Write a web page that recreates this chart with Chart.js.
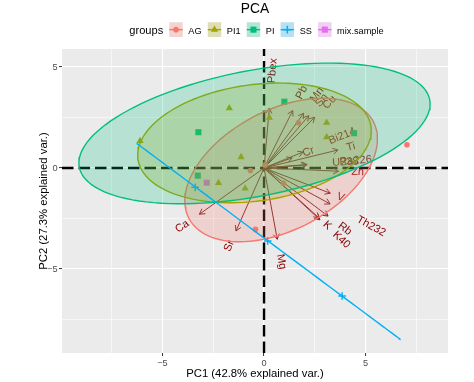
<!DOCTYPE html>
<html><head><meta charset="utf-8">
<script src="https://cdn.jsdelivr.net/npm/chart.js@4"></script>
<style>html,body{margin:0;padding:0;background:#fff}#wrap{width:474px;height:382px}</style>
</head><body><div id="wrap"><canvas id="c" width="474" height="382"></canvas></div>
<script>
// ---------- data ----------
const groupNames = ['AG', 'PI1', 'PI', 'SS', 'mix.sample'];

const agX  = [7.03, -0.42, -0.67, 1.69, 0.95, 0.05];
const agY  = [1.15, -3.04, -0.13, 2.24, -0.76, 0.15];
const pi1X = [-6.10, -1.71, -1.13, -2.24, -0.93, 0.26, 3.08, 3.08];
const pi1Y = [1.34, 2.96, 0.54, -0.74, -1.01, 2.49, 2.24, 1.52];
const piX  = [-3.23, -3.26, 1.00, 4.43];
const piY  = [1.77, -0.38, 3.28, 1.72];
const ssX  = [-3.39, 0.18, 3.84];
const ssY  = [-0.96, -3.61, -6.34];
const mixX = [-2.82];
const mixY = [-0.73];

// concentration ellipses (centre, semi-axes, rotation in degrees)
const ellipseGroups = ['AG', 'PI1', 'PI', 'SS'];
const ellipseCX = [0.84, -0.47, -0.47, 0.215];
const ellipseCY = [-0.10, 1.24, 1.71, -3.63];
const ellipseA  = [5.13, 5.79, 8.78, 8.09];
const ellipseB  = [2.96, 2.88, 3.11, 0];
const ellipseDeg = [28, 8, 11, -36.8];

// variable loadings (arrows)
const varNames = ['Pbex','Pb','Mn','Sn','Cu','Cr','Bi214','Ti','U238','Ra226','Zn','V','Th232','Rb','K','K40','Mg','Sr','Ca'];
const loadX = [0.26, 1.41, 1.95, 2.20, 2.49, 1.38, 1.92, 3.64, 2.07, 2.12, 3.66, 3.26, 3.25, 3.15, 2.71, 2.75, 0.65, -1.38, -3.18];
const loadY = [2.96, 2.84, 2.71, 2.59, 2.51, 0.50, 0.79, 0.89, 0.15, 0.17, -0.16, -1.25, -1.78, -2.38, -2.48, -2.57, -3.53, -3.12, -2.29];

const xTickValues = [-5, 0, 5];
const yTickValues = [-5, 0, 5];
const xRange = [-9.94, 9.05];
const yRange = [-9.16, 5.89];

const titleText = 'PCA';
const xTitle = 'PC1 (42.8% explained var.)';
const yTitle = 'PC2 (27.3% explained var.)';
const legendTitle = 'groups';

// ---------- styles ----------
const COLORS = {AG:'#F8766D', PI1:'#A3A500', PI:'#00BF7D', SS:'#00B0F6', 'mix.sample':'#E76BF3'};
const FILL_ALPHA = 0.22;
const FONT = '"Liberation Sans", Arial, Helvetica, sans-serif';
const ARROW_COLOR = '#832424';
const LABEL_COLOR = '#8B0000';

function rgba(hex, a) {
  const n = parseInt(hex.slice(1), 16);
  return `rgba(${(n>>16)&255},${(n>>8)&255},${n&255},${a})`;
}
function pts(xs, ys) { return xs.map((v, i) => ({x: v, y: ys[i]})); }
function ellipsePoints(cx, cy, a, b, deg) {
  const th = deg * Math.PI / 180, out = [];
  for (let k = 0; k <= 120; k++) {
    const t = 2 * Math.PI * k / 120;
    out.push({x: cx + a*Math.cos(t)*Math.cos(th) - b*Math.sin(t)*Math.sin(th),
              y: cy + a*Math.cos(t)*Math.sin(th) + b*Math.sin(t)*Math.cos(th)});
  }
  return out;
}

const pointStyles = {AG:'circle', PI1:'triangle', PI:'rect', SS:'cross', 'mix.sample':'rect'};
const pointRadii  = {AG:2.8, PI1:4.2, PI:4.3, SS:3.8, 'mix.sample':4.3};
const groupData = {AG:[agX,agY], PI1:[pi1X,pi1Y], PI:[piX,piY], SS:[ssX,ssY], 'mix.sample':[mixX,mixY]};

const datasets = [];
groupNames.forEach(g => {
  const c = COLORS[g];
  datasets.push({
    label: g, data: pts(groupData[g][0], groupData[g][1]), showLine: false,
    pointStyle: pointStyles[g], pointRadius: pointRadii[g], pointHoverRadius: pointRadii[g],
    backgroundColor: c, borderColor: c, pointBorderWidth: g === 'SS' ? 1.5 : 0, order: 5
  });
});
ellipseGroups.forEach((g, i) => {
  const c = COLORS[g];
  datasets.push({
    label: g + ' ellipse',
    data: ellipsePoints(ellipseCX[i], ellipseCY[i], ellipseA[i], ellipseB[i], ellipseDeg[i]),
    showLine: true, pointRadius: 0, pointHoverRadius: 0, tension: 0,
    borderColor: c, borderWidth: 1.4, backgroundColor: rgba(c, FILL_ALPHA),
    fill: ellipseB[i] > 0 ? 'shape' : false, order: 4 - i * 0.5
  });
});

const isMajor = v => Math.abs(v % 5) < 1e-9;
const fmt = v => (v < 0 ? '\u2212' + Math.abs(v) : String(v));

function drawKeyPoint(ctx, g, x, y) {
  const c = COLORS[g];
  ctx.save(); ctx.fillStyle = c; ctx.strokeStyle = c; ctx.lineWidth = 1.5;
  Chart.helpers.drawPoint(ctx, {pointStyle: pointStyles[g], radius: pointRadii[g], borderWidth: g === 'SS' ? 1.5 : 0, rotation: 0}, x, y);
  ctx.restore();
}

const drawPlugin = {
  id: 'ggdraw',
  beforeDraw(chart) {
    const {ctx, chartArea: a} = chart;
    ctx.save();
    ctx.fillStyle = '#fff'; ctx.fillRect(0, 0, chart.width, chart.height);
    ctx.fillStyle = '#EBEBEB'; ctx.fillRect(a.left, a.top, a.right - a.left, a.bottom - a.top);
    ctx.restore();
  },
  beforeDatasetsDraw(chart) {
    const {ctx, chartArea: a, scales: {x, y}} = chart;
    const ox = x.getPixelForValue(0), oy = y.getPixelForValue(0);
    ctx.save();
    ctx.beginPath(); ctx.rect(a.left, a.top, a.right - a.left, a.bottom - a.top); ctx.clip();
    // dashed zero lines
    ctx.strokeStyle = '#000'; ctx.lineWidth = 2.4; ctx.setLineDash([11.5, 5]);
    ctx.beginPath(); ctx.moveTo(a.left, oy); ctx.lineTo(a.right, oy); ctx.stroke();
    ctx.beginPath(); ctx.moveTo(ox, a.bottom); ctx.lineTo(ox, a.top); ctx.stroke();
    ctx.setLineDash([]);
    // arrows
    ctx.strokeStyle = ARROW_COLOR; ctx.lineWidth = 1;
    varNames.forEach((n, i) => {
      const px = x.getPixelForValue(loadX[i]), py = y.getPixelForValue(loadY[i]);
      const dx = px - ox, dy = py - oy, L = Math.hypot(dx, dy), ux = dx / L, uy = dy / L;
      ctx.beginPath(); ctx.moveTo(ox, oy); ctx.lineTo(px, py); ctx.stroke();
      const hl = 6, ang = Math.PI / 6;
      ctx.beginPath();
      for (const s of [-1, 1]) {
        const c = Math.cos(s * ang), sn = Math.sin(s * ang);
        const rx = ux * c - uy * sn, ry = ux * sn + uy * c;
        ctx.moveTo(px, py); ctx.lineTo(px - hl * rx, py - hl * ry);
      }
      ctx.stroke();
    });
    // variable labels
    ctx.fillStyle = LABEL_COLOR; ctx.font = '11px ' + FONT; ctx.textBaseline = 'middle';
    varNames.forEach((n, i) => {
      const px = x.getPixelForValue(loadX[i]), py = y.getPixelForValue(loadY[i]);
      const dx = px - ox, dy = py - oy;
      const phi = Math.atan(dy / dx);
      const w = ctx.measureText(n).width;
      ctx.save(); ctx.translate(px, py); ctx.rotate(phi);
      if (dx >= 0) { ctx.textAlign = 'left'; ctx.fillText(n, w, 0); }
      else { ctx.textAlign = 'right'; ctx.fillText(n, -w, 0); }
      ctx.restore();
    });
    ctx.restore();
  },
  afterDraw(chart) {
    const {ctx, chartArea: a} = chart;
    const cx = (a.left + a.right) / 2, cy = (a.top + a.bottom) / 2;
    ctx.save();
    ctx.fillStyle = '#000'; ctx.textBaseline = 'alphabetic'; ctx.textAlign = 'center';
    ctx.font = '13.8px ' + FONT; ctx.fillText(titleText, cx, 12.5);
    ctx.font = '11.3px ' + FONT; ctx.fillText(xTitle, cx, 376.5);
    ctx.save(); ctx.translate(46.5, cy); ctx.rotate(-Math.PI / 2); ctx.fillText(yTitle, 0, 0); ctx.restore();
    // legend
    ctx.textAlign = 'left';
    ctx.font = '11.1px ' + FONT; ctx.fillText(legendTitle, 129.3, 33.5);
    let kx = 169.3;
    const kw = 13.4, kt = 22.3, kh = 14.7, kmid = kt + kh / 2;
    ctx.font = '9.2px ' + FONT;
    groupNames.forEach(g => {
      const c = COLORS[g];
      ctx.fillStyle = '#F2F2F2'; ctx.fillRect(kx, kt, kw, kh);
      ctx.fillStyle = rgba(c, 0.25); ctx.fillRect(kx, kt, kw, kh);
      ctx.strokeStyle = c; ctx.lineWidth = 1.4;
      ctx.beginPath(); ctx.moveTo(kx, kmid); ctx.lineTo(kx + kw, kmid); ctx.stroke();
      drawKeyPoint(ctx, g, kx + kw / 2, kmid);
      ctx.fillStyle = '#000';
      ctx.fillText(g, kx + kw + 5.6, 33.5);
      kx += kw + 5.6 + ctx.measureText(g).width + 6.2;
    });
    ctx.restore();
  }
};

const gridCommon = () => ({
  color: '#FFFFFF',
  lineWidth: c => (c.tick && isMajor(c.tick.value)) ? 1.1 : 0.55,
  tickColor: c => (c.tick && isMajor(c.tick.value)) ? '#333333' : 'rgba(0,0,0,0)',
  tickWidth: 1, tickLength: 3, drawTicks: true, drawOnChartArea: true
});

new Chart(document.getElementById('c'), {
  type: 'scatter',
  data: {datasets},
  plugins: [drawPlugin],
  options: {
    responsive: false, animation: false, devicePixelRatio: 1,
    layout: {padding: {top: 49, right: 26, left: 0, bottom: 0}},
    plugins: {legend: {display: false}, tooltip: {enabled: false}, title: {display: false}},
    events: [],
    scales: {
      x: {
        type: 'linear', min: xRange[0], max: xRange[1],
        border: {display: false}, grid: gridCommon(),
        afterFit: s => { s.height = 29; },
        ticks: {stepSize: 2.5, includeBounds: false, autoSkip: false, maxRotation: 0, padding: 1.5,
          color: '#4D4D4D', font: {family: FONT, size: 9.2},
          callback: v => xTickValues.includes(v) ? fmt(v) : ''}
      },
      y: {
        type: 'linear', min: yRange[0], max: yRange[1],
        border: {display: false}, grid: gridCommon(),
        afterFit: s => { s.width = 62; },
        ticks: {stepSize: 2.5, includeBounds: false, autoSkip: false, padding: 1.5,
          color: '#4D4D4D', font: {family: FONT, size: 9.2},
          callback: v => yTickValues.includes(v) ? fmt(v) : ''}
      }
    }
  }
});
</script></body></html>
